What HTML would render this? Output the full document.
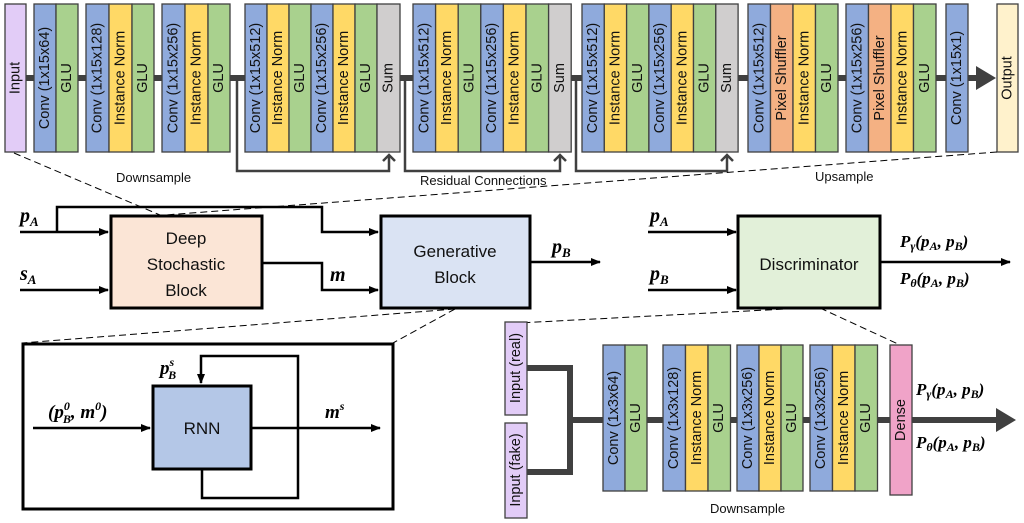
<!DOCTYPE html>
<html><head><meta charset="utf-8"><style>
html,body{margin:0;padding:0;background:#fff;}
svg{display:block;}
.t{font-family:"Liberation Sans",sans-serif;fill:#111;}
.m{font-family:"Liberation Serif",serif;font-weight:bold;font-style:italic;fill:#000;}
</style></head><body>
<svg width="1024" height="523" viewBox="0 0 1024 523" xmlns="http://www.w3.org/2000/svg">
<defs>
<marker id="ah" markerWidth="10" markerHeight="10" refX="9" refY="5" orient="auto" markerUnits="userSpaceOnUse"><path d="M0,1 L10,5 L0,9 Z" fill="#000"/></marker>
<marker id="ag" markerWidth="14" markerHeight="14" refX="7" refY="7" orient="auto" markerUnits="userSpaceOnUse"><path d="M1,1 L7,7 L1,13" fill="none" stroke="#404040" stroke-width="2.5"/></marker>
</defs>

<line x1="26" y1="78" x2="980" y2="78" stroke="#404040" stroke-width="6"/>
<path d="M976,66 L996,78 L976,90 Z" fill="#404040"/>
<g fill="none" stroke="#404040" stroke-width="2.5">
<path d="M237,78 V171 H389 V155" marker-end="url(#ag)"/>
<path d="M405,78 V171 H560 V155" marker-end="url(#ag)"/>
<path d="M576,78 V171 H727 V155" marker-end="url(#ag)"/>
</g>

<g stroke="#404040" stroke-width="1.3">
<rect x="5" y="4" width="21" height="148" fill="#e2ccf7"/>
<rect x="34" y="4" width="22" height="148" fill="#8faadc"/><rect x="56" y="4" width="22" height="148" fill="#a9d18e"/>
<rect x="86" y="4" width="23" height="148" fill="#8faadc"/><rect x="109" y="4" width="23" height="148" fill="#ffd966"/><rect x="132" y="4" width="22" height="148" fill="#a9d18e"/>
<rect x="162" y="4" width="23" height="148" fill="#8faadc"/><rect x="185" y="4" width="23" height="148" fill="#ffd966"/><rect x="208" y="4" width="22" height="148" fill="#a9d18e"/>
<rect x="245" y="4" width="22" height="148" fill="#8faadc"/><rect x="267" y="4" width="22" height="148" fill="#ffd966"/><rect x="289" y="4" width="22" height="148" fill="#a9d18e"/><rect x="311" y="4" width="22" height="148" fill="#8faadc"/><rect x="333" y="4" width="22" height="148" fill="#ffd966"/><rect x="355" y="4" width="22" height="148" fill="#a9d18e"/><rect x="377" y="4" width="23" height="148" fill="#d0cece"/>
<rect x="413" y="4" width="22.6" height="148" fill="#8faadc"/><rect x="435.6" y="4" width="22.6" height="148" fill="#ffd966"/><rect x="458.2" y="4" width="22.6" height="148" fill="#a9d18e"/><rect x="480.8" y="4" width="22.6" height="148" fill="#8faadc"/><rect x="503.4" y="4" width="22.6" height="148" fill="#ffd966"/><rect x="526" y="4" width="22.6" height="148" fill="#a9d18e"/><rect x="548.6" y="4" width="22.6" height="148" fill="#d0cece"/>
<rect x="582" y="4" width="22.3" height="148" fill="#8faadc"/><rect x="604.3" y="4" width="22.3" height="148" fill="#ffd966"/><rect x="626.6" y="4" width="22.3" height="148" fill="#a9d18e"/><rect x="648.9" y="4" width="22.3" height="148" fill="#8faadc"/><rect x="671.2" y="4" width="22.3" height="148" fill="#ffd966"/><rect x="693.5" y="4" width="22.3" height="148" fill="#a9d18e"/><rect x="715.8" y="4" width="22.3" height="148" fill="#d0cece"/>
<rect x="748" y="4" width="22.5" height="148" fill="#8faadc"/><rect x="770.5" y="4" width="22.5" height="148" fill="#f4b183"/><rect x="793" y="4" width="22.5" height="148" fill="#ffd966"/><rect x="815.5" y="4" width="22.5" height="148" fill="#a9d18e"/>
<rect x="846" y="4" width="22.5" height="148" fill="#8faadc"/><rect x="868.5" y="4" width="22.5" height="148" fill="#f4b183"/><rect x="891" y="4" width="22.5" height="148" fill="#ffd966"/><rect x="913.5" y="4" width="22.5" height="148" fill="#a9d18e"/>
<rect x="946" y="4" width="22" height="148" fill="#8faadc"/>
<rect x="997" y="4" width="21" height="148" fill="#fff2cc"/>
</g>

<g class="t" style="font-size:14.5px" text-anchor="middle" dominant-baseline="central">
<text transform="translate(15.5,78) rotate(-90)">Input</text>
<text transform="translate(45,78) rotate(-90)">Conv (1x15x64)</text><text transform="translate(67,78) rotate(-90)">GLU</text>
<text transform="translate(97.5,78) rotate(-90)">Conv (1x15x128)</text><text transform="translate(120.5,78) rotate(-90)">Instance Norm</text><text transform="translate(143,78) rotate(-90)">GLU</text>
<text transform="translate(173.5,78) rotate(-90)">Conv (1x15x256)</text><text transform="translate(196.5,78) rotate(-90)">Instance Norm</text><text transform="translate(219,78) rotate(-90)">GLU</text>
<text transform="translate(256,78) rotate(-90)">Conv (1x15x512)</text><text transform="translate(278,78) rotate(-90)">Instance Norm</text><text transform="translate(300,78) rotate(-90)">GLU</text><text transform="translate(322,78) rotate(-90)">Conv (1x15x256)</text><text transform="translate(344,78) rotate(-90)">Instance Norm</text><text transform="translate(366,78) rotate(-90)">GLU</text><text transform="translate(388.5,78) rotate(-90)">Sum</text>
<text transform="translate(424.3,78) rotate(-90)">Conv (1x15x512)</text><text transform="translate(446.9,78) rotate(-90)">Instance Norm</text><text transform="translate(469.5,78) rotate(-90)">GLU</text><text transform="translate(492.1,78) rotate(-90)">Conv (1x15x256)</text><text transform="translate(514.7,78) rotate(-90)">Instance Norm</text><text transform="translate(537.3,78) rotate(-90)">GLU</text><text transform="translate(559.9,78) rotate(-90)">Sum</text>
<text transform="translate(593.2,78) rotate(-90)">Conv (1x15x512)</text><text transform="translate(615.5,78) rotate(-90)">Instance Norm</text><text transform="translate(637.8,78) rotate(-90)">GLU</text><text transform="translate(660,78) rotate(-90)">Conv (1x15x256)</text><text transform="translate(682.4,78) rotate(-90)">Instance Norm</text><text transform="translate(704.7,78) rotate(-90)">GLU</text><text transform="translate(727,78) rotate(-90)">Sum</text>
<text transform="translate(759.3,78) rotate(-90)">Conv (1x15x512)</text><text transform="translate(781.8,78) rotate(-90)">Pixel Shuffler</text><text transform="translate(804.3,78) rotate(-90)">Instance Norm</text><text transform="translate(826.8,78) rotate(-90)">GLU</text>
<text transform="translate(857.3,78) rotate(-90)">Conv (1x15x256)</text><text transform="translate(879.8,78) rotate(-90)">Pixel Shuffler</text><text transform="translate(902.3,78) rotate(-90)">Instance Norm</text><text transform="translate(924.8,78) rotate(-90)">GLU</text>
<text transform="translate(957,78) rotate(-90)">Conv (1x15x1)</text>
<text transform="translate(1007.5,78) rotate(-90)">Output</text>
</g>
<g class="t" style="font-size:13px">
<text x="116" y="182">Downsample</text>
<text x="420" y="185">Residual Connections</text>
<text x="815" y="181">Upsample</text>
</g>

<g stroke="#000" stroke-width="1" stroke-dasharray="7,4" fill="none">
<line x1="14" y1="153" x2="160" y2="215"/>
<line x1="997" y1="152" x2="165" y2="215"/>
<line x1="455" y1="309" x2="22" y2="343"/>
<line x1="455" y1="309" x2="393" y2="343"/>
<line x1="805" y1="308" x2="518" y2="323"/>
<line x1="820" y1="308" x2="898" y2="344"/>
</g>

<g stroke="#000" stroke-width="2.5" fill="none">
<path d="M20,232 H108" marker-end="url(#ah)"/>
<path d="M57,232 V207 H322 V232 H378" marker-end="url(#ah)"/>
<path d="M20,290 H108" marker-end="url(#ah)"/>
<path d="M262,263 H322 V290 H378" marker-end="url(#ah)"/>
<path d="M530,262 H600" marker-end="url(#ah)"/>
<path d="M648,232 H736" marker-end="url(#ah)"/>
<path d="M648,290 H736" marker-end="url(#ah)"/>
<path d="M880,262 H1010" marker-end="url(#ah)"/>
</g>
<rect x="111" y="216" width="151" height="92" fill="#fbe5d6" stroke="#000" stroke-width="3"/>
<rect x="381" y="216" width="149" height="92" fill="#dae3f3" stroke="#000" stroke-width="3"/>
<rect x="738" y="216" width="142" height="92" fill="#e2f0d9" stroke="#000" stroke-width="3"/>
<g class="t" style="font-size:17px" text-anchor="middle">
<text x="186" y="244">Deep</text><text x="186" y="270">Stochastic</text><text x="186" y="296">Block</text>
<text x="455" y="257">Generative</text><text x="455" y="283">Block</text>
<text x="809" y="270">Discriminator</text>
</g>
<g class="m" style="font-size:20px">
<text x="20" y="222">p<tspan style="font-size:13px" dy="4">A</tspan></text>
<text x="20" y="280">s<tspan style="font-size:13px" dy="4">A</tspan></text>
<text x="330" y="281">m</text>
<text x="552" y="253">p<tspan style="font-size:13px" dy="4">B</tspan></text>
<text x="650" y="222">p<tspan style="font-size:13px" dy="4">A</tspan></text>
<text x="650" y="280">p<tspan style="font-size:13px" dy="4">B</tspan></text>
</g>
<g class="m" style="font-size:17px">
<text x="900" y="247">P<tspan style="font-size:12px" dy="3">γ</tspan><tspan dy="-3">(p</tspan><tspan style="font-size:12px" dy="3">A</tspan><tspan dy="-3">, p</tspan><tspan style="font-size:12px" dy="3">B</tspan><tspan dy="-3">)</tspan></text>
<text x="900" y="284">P<tspan style="font-size:12px" dy="3">θ</tspan><tspan dy="-3">(p</tspan><tspan style="font-size:12px" dy="3">A</tspan><tspan dy="-3">, p</tspan><tspan style="font-size:12px" dy="3">B</tspan><tspan dy="-3">)</tspan></text>
</g>

<rect x="23" y="344" width="370" height="165" fill="#fff" stroke="#000" stroke-width="3"/>
<g stroke="#000" stroke-width="2.5" fill="none">
<path d="M33,428 H150" marker-end="url(#ah)"/>
<path d="M251,428 H380" marker-end="url(#ah)"/>
<path d="M202,469 V498 H298 V356 H201 V383" marker-end="url(#ah)"/>
</g>
<rect x="153" y="386" width="98" height="83" fill="#b4c7e7" stroke="#000" stroke-width="3"/>
<text class="t" x="202" y="434" style="font-size:17px" text-anchor="middle">RNN</text>
<g class="m" style="font-size:19px">
<text x="48" y="418">(p<tspan style="font-size:12px" dy="-8">0</tspan><tspan style="font-size:12px" dx="-7" dy="13">B</tspan><tspan dy="-5">, m</tspan><tspan style="font-size:12px" dy="-8">0</tspan><tspan dy="8">)</tspan></text>
<text x="325" y="418">m<tspan style="font-size:12px" dy="-8">s</tspan></text>
<text x="160" y="374">p<tspan style="font-size:12px" dy="-8">s</tspan><tspan style="font-size:12px" dx="-6" dy="13">B</tspan></text>
</g>

<g fill="none" stroke="#404040" stroke-width="6">
<path d="M527,368 H570 V472 H527"/>
<path d="M570,420 H1000"/>
</g>
<path d="M996,408 L1016,420 L996,432 Z" fill="#404040"/>
<g stroke="#404040" stroke-width="1.3">
<rect x="505" y="322" width="22" height="93" fill="#e2ccf7"/>
<rect x="505" y="423" width="22" height="95" fill="#e2ccf7"/>
<rect x="603" y="345" width="22" height="146" fill="#8faadc"/><rect x="625" y="345" width="22" height="146" fill="#a9d18e"/>
<rect x="663" y="345" width="22.5" height="146" fill="#8faadc"/><rect x="685.5" y="345" width="22.5" height="146" fill="#ffd966"/><rect x="708" y="345" width="22.5" height="146" fill="#a9d18e"/>
<rect x="737" y="345" width="22" height="146" fill="#8faadc"/><rect x="759" y="345" width="22" height="146" fill="#ffd966"/><rect x="781" y="345" width="22" height="146" fill="#a9d18e"/>
<rect x="810" y="345" width="22.5" height="146" fill="#8faadc"/><rect x="832.5" y="345" width="22.5" height="146" fill="#ffd966"/><rect x="855" y="345" width="22.5" height="146" fill="#a9d18e"/>
<rect x="890" y="345" width="22" height="150" fill="#f0a3c8"/>
</g>
<g class="t" style="font-size:14.5px" text-anchor="middle" dominant-baseline="central">
<text transform="translate(516,368) rotate(-90)">Input (real)</text>
<text transform="translate(516,470) rotate(-90)">Input (fake)</text>
<text transform="translate(614,418) rotate(-90)">Conv (1x3x64)</text><text transform="translate(636,418) rotate(-90)">GLU</text>
<text transform="translate(674,418) rotate(-90)">Conv (1x3x128)</text><text transform="translate(697,418) rotate(-90)">Instance Norm</text><text transform="translate(719,418) rotate(-90)">GLU</text>
<text transform="translate(748,418) rotate(-90)">Conv (1x3x256)</text><text transform="translate(770,418) rotate(-90)">Instance Norm</text><text transform="translate(792,418) rotate(-90)">GLU</text>
<text transform="translate(821,418) rotate(-90)">Conv (1x3x256)</text><text transform="translate(844,418) rotate(-90)">Instance Norm</text><text transform="translate(866,418) rotate(-90)">GLU</text>
<text transform="translate(901,420) rotate(-90)">Dense</text>
</g>
<text class="t" x="710" y="513" style="font-size:13px">Downsample</text>
<g class="m" style="font-size:17px">
<text x="916" y="395">P<tspan style="font-size:12px" dy="3">γ</tspan><tspan dy="-3">(p</tspan><tspan style="font-size:12px" dy="3">A</tspan><tspan dy="-3">, p</tspan><tspan style="font-size:12px" dy="3">B</tspan><tspan dy="-3">)</tspan></text>
<text x="916" y="448">P<tspan style="font-size:12px" dy="3">θ</tspan><tspan dy="-3">(p</tspan><tspan style="font-size:12px" dy="3">A</tspan><tspan dy="-3">, p</tspan><tspan style="font-size:12px" dy="3">B</tspan><tspan dy="-3">)</tspan></text>
</g>
</svg>
</body></html>
